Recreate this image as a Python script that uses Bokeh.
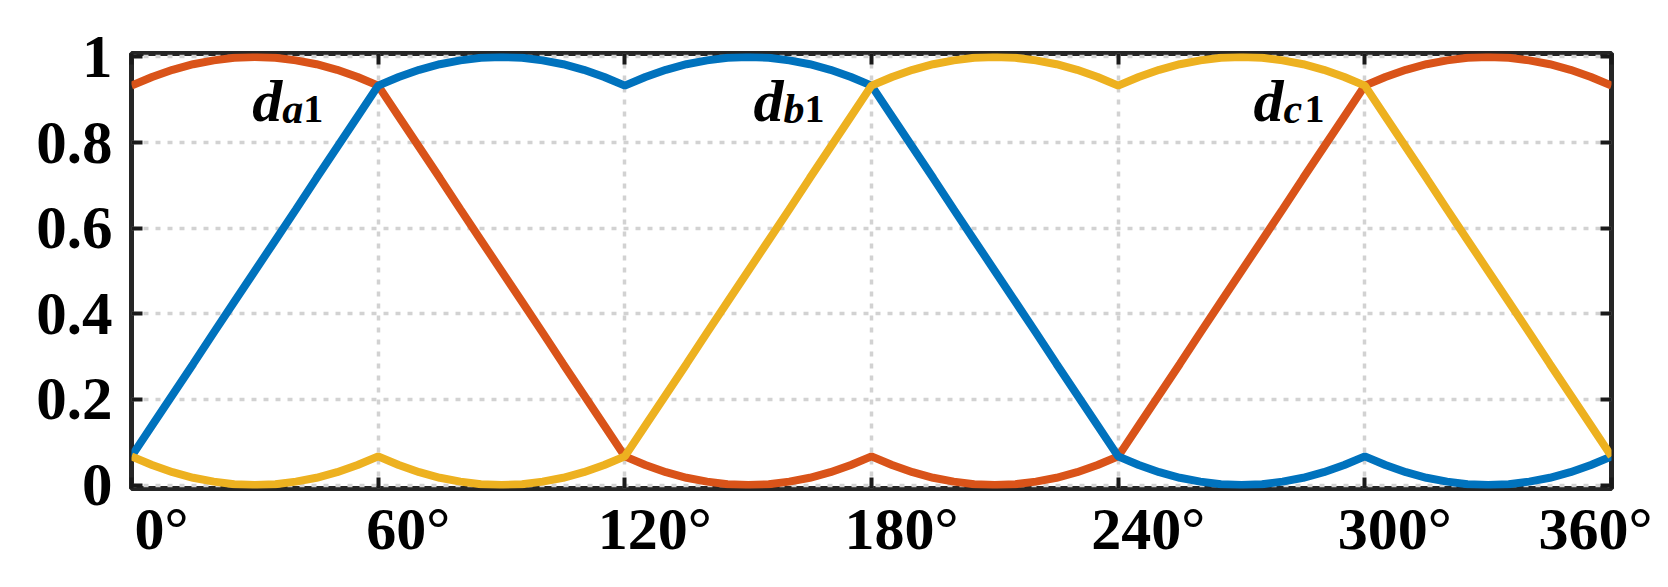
from bokeh.plotting import figure
from bokeh.models import FixedTicker, LinearAxis, Label, CustomJSTickFormatter, Range1d
from bokeh.embed import file_html
from bokeh.resources import INLINE

# ---------------- data ----------------
angle_deg = list(range(0, 365, 5))

d_a1 = [  # orange
    0.933, 0.953, 0.970, 0.983, 0.992, 0.998, 1.000, 0.998, 0.992, 0.983, 0.970, 0.953,
    0.933, 0.861, 0.789, 0.717, 0.644, 0.572, 0.500, 0.428, 0.356, 0.283, 0.211, 0.139,
    0.067, 0.047, 0.030, 0.017, 0.008, 0.002, 0.000, 0.002, 0.008, 0.017, 0.030, 0.047,
    0.067, 0.047, 0.030, 0.017, 0.008, 0.002, 0.000, 0.002, 0.008, 0.017, 0.030, 0.047,
    0.067, 0.139, 0.211, 0.283, 0.356, 0.428, 0.500, 0.572, 0.644, 0.717, 0.789, 0.861,
    0.933, 0.953, 0.970, 0.983, 0.992, 0.998, 1.000, 0.998, 0.992, 0.983, 0.970, 0.953,
    0.933,
]
d_b1 = [  # blue
    0.067, 0.139, 0.211, 0.283, 0.356, 0.428, 0.500, 0.572, 0.644, 0.717, 0.789, 0.861,
    0.933, 0.953, 0.970, 0.983, 0.992, 0.998, 1.000, 0.998, 0.992, 0.983, 0.970, 0.953,
    0.933, 0.953, 0.970, 0.983, 0.992, 0.998, 1.000, 0.998, 0.992, 0.983, 0.970, 0.953,
    0.933, 0.861, 0.789, 0.717, 0.644, 0.572, 0.500, 0.428, 0.356, 0.283, 0.211, 0.139,
    0.067, 0.047, 0.030, 0.017, 0.008, 0.002, 0.000, 0.002, 0.008, 0.017, 0.030, 0.047,
    0.067, 0.047, 0.030, 0.017, 0.008, 0.002, 0.000, 0.002, 0.008, 0.017, 0.030, 0.047,
    0.067,
]
d_c1 = [  # yellow
    0.067, 0.047, 0.030, 0.017, 0.008, 0.002, 0.000, 0.002, 0.008, 0.017, 0.030, 0.047,
    0.067, 0.047, 0.030, 0.017, 0.008, 0.002, 0.000, 0.002, 0.008, 0.017, 0.030, 0.047,
    0.067, 0.139, 0.211, 0.283, 0.356, 0.428, 0.500, 0.572, 0.644, 0.717, 0.789, 0.861,
    0.933, 0.953, 0.970, 0.983, 0.992, 0.998, 1.000, 0.998, 0.992, 0.983, 0.970, 0.953,
    0.933, 0.953, 0.970, 0.983, 0.992, 0.998, 1.000, 0.998, 0.992, 0.983, 0.970, 0.953,
    0.933, 0.861, 0.789, 0.717, 0.644, 0.572, 0.500, 0.428, 0.356, 0.283, 0.211, 0.139,
    0.067,
]

x_ticks = [0, 60, 120, 180, 240, 300, 360]
x_tick_labels = ["0°", "60°", "120°", "180°", "240°", "300°", "360°"]
y_ticks = [0, 0.2, 0.4, 0.6, 0.8, 1]

series_names = ["a", "b", "c"]
label_angle = [29.4, 151.3, 272.9]
label_level = [0.897, 0.897, 0.897]

# ---------------- styling / layout ----------------
BLUE = "#0072BD"
ORANGE = "#D95319"
YELLOW = "#EDB120"
FONT = "Liberation Serif"

FRAME_W = 1480
X0, X1 = 0, 360
deg_per_px = (X1 - X0) / FRAME_W

p = figure(
    width=1660, height=579,
    x_range=Range1d(X0, X1), y_range=Range1d(-0.008, 1.008),
    output_backend="svg", toolbar_location=None,
    min_border_left=131, min_border_right=49, min_border_top=53, min_border_bottom=91,
    background_fill_color="white", border_fill_color="white",
)

p.outline_line_color = "#262626"
p.outline_line_width = 5

empty_fmt = CustomJSTickFormatter(code="return '';")
y_fmt = CustomJSTickFormatter(code="return String(Math.round(tick*10)/10);")

def style_axis(ax, ticks, fmt):
    ax.ticker = FixedTicker(ticks=ticks)
    ax.formatter = fmt
    ax.axis_line_color = None
    ax.major_tick_in = 11
    ax.major_tick_out = 0
    ax.major_tick_line_width = 4
    ax.major_tick_line_color = "#1a1a1a"
    ax.minor_tick_line_color = None
    ax.major_label_standoff = 0

# bottom: tick marks only (at the frame edge)
style_axis(p.xaxis[0], x_ticks, empty_fmt)

# bottom: tick labels, drawn slightly to the right of their ticks as in the reference
lab_shift_px = 30
last_back_px = 46
p.extra_x_ranges = {"xlab": Range1d(X0 - lab_shift_px * deg_per_px, X1 - lab_shift_px * deg_per_px)}
lab_ticks = x_ticks[:-1] + [x_ticks[-1] - last_back_px * deg_per_px]
lab_axis = LinearAxis(
    x_range_name="xlab",
    ticker=FixedTicker(ticks=lab_ticks),
    formatter=CustomJSTickFormatter(args=dict(labels=x_tick_labels), code="return labels[index];"),
)
lab_axis.axis_line_color = None
lab_axis.major_tick_in = 0
lab_axis.major_tick_out = 0
lab_axis.major_tick_line_color = None
lab_axis.minor_tick_line_color = None
lab_axis.major_label_standoff = 7
lab_axis.major_label_text_font = FONT
lab_axis.major_label_text_font_style = "bold"
lab_axis.major_label_text_font_size = "60px"
lab_axis.major_label_text_color = "black"
p.add_layout(lab_axis, "below")

# left axis with labels
style_axis(p.yaxis[0], y_ticks, y_fmt)
p.yaxis[0].major_label_text_font = FONT
p.yaxis[0].major_label_text_font_style = "bold"
p.yaxis[0].major_label_text_font_size = "61px"
p.yaxis[0].major_label_text_color = "black"
p.yaxis[0].major_label_standoff = 19

# top and right: tick marks only
top_ax = LinearAxis()
style_axis(top_ax, x_ticks, empty_fmt)
p.add_layout(top_ax, "above")
right_ax = LinearAxis()
style_axis(right_ax, y_ticks, empty_fmt)
p.add_layout(right_ax, "right")

for g, ticks in ((p.xgrid[0], x_ticks), (p.ygrid[0], y_ticks)):
    g.ticker = FixedTicker(ticks=ticks)
    g.grid_line_color = "#d2d2d2"
    g.grid_line_width = 3.5
    g.grid_line_dash = "5 7"

# curves (orange, blue, yellow drawing order)
p.line(angle_deg, d_a1, line_color=ORANGE, line_width=8)
p.line(angle_deg, d_b1, line_color=BLUE, line_width=8)
p.line(angle_deg, d_c1, line_color=YELLOW, line_width=8)

# curve labels d_a1, d_b1, d_c1
for nm, xa, ya in zip(series_names, label_angle, label_level):
    p.add_layout(Label(x=xa, y=ya, text="d", text_align="left", text_baseline="alphabetic",
                       text_font=FONT, text_font_style="bold italic", text_font_size="60px",
                       text_color="black"))
    p.add_layout(Label(x=xa, y=ya, text=nm, x_offset=30, y_offset=-8,
                       text_align="left", text_baseline="alphabetic",
                       text_font=FONT, text_font_style="bold italic", text_font_size="42px",
                       text_color="black"))
    p.add_layout(Label(x=xa, y=ya, text="1", x_offset=51, y_offset=-8,
                       text_align="left", text_baseline="alphabetic",
                       text_font=FONT, text_font_style="bold", text_font_size="40px",
                       text_color="black"))

open("out.html", "w").write(file_html(p, INLINE))
